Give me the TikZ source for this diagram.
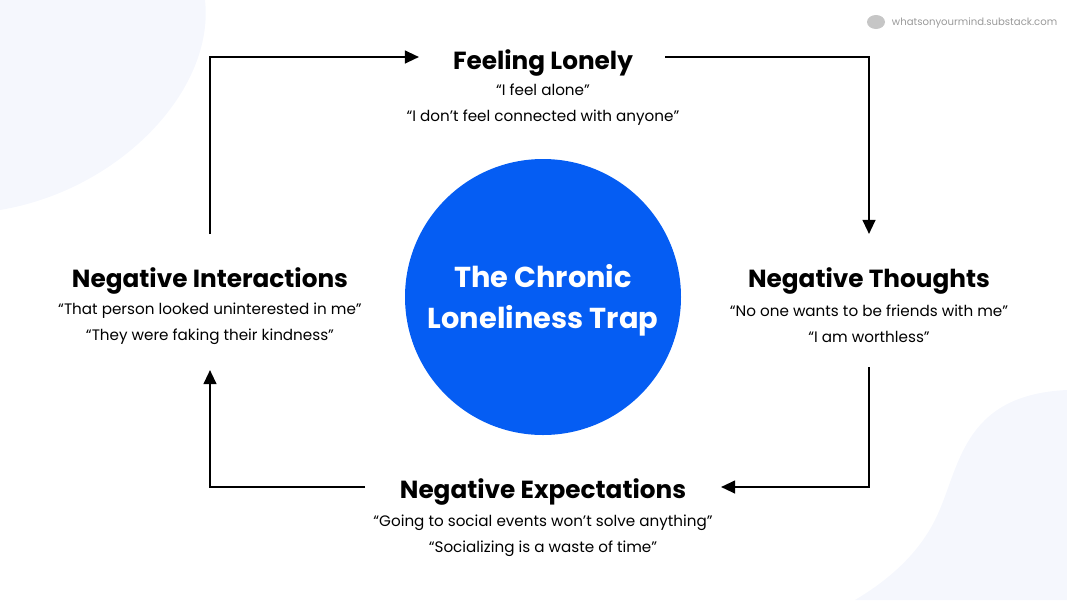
\documentclass[tikz,border=0pt]{standalone}
\usepackage{fontspec}
\setmainfont{Poppins}
\usetikzlibrary{arrows.meta}
\definecolor{trapblue}{HTML}{055DF3}
\definecolor{blob}{HTML}{F5F7FD}
\begin{document}
\begin{tikzpicture}[x=0.025cm,y=-0.025cm,
  title/.style={font=\fontsize{17.6}{22}\selectfont\bfseries, text=black},
  sub/.style={font=\fontsize{10.8}{18.5}\selectfont, align=center, text=black},
  cyc/.style={line width=1.6pt, -{Triangle[length=10pt,width=9pt]}}]
\useasboundingbox (0,0) rectangle (1067,600);
\fill[blob] (0,0) -- (205,0) .. controls (215,90) and (120,190) .. (0,210) -- cycle;
\fill[blob] (1067,390) .. controls (960,395) and (960,470) .. (935,520) .. controls (915,560) and (880,585) .. (855,600) -- (1067,600) -- cycle;
\node[font=\fontsize{7.2}{9}\selectfont, text=gray!80, anchor=west] (logo) at (887,23) {whatsonyourmind.substack.com};
\fill[gray!45] (876,22) ellipse (9 and 7);
\node[circle, fill=trapblue, minimum size=276*0.025cm, inner sep=0pt] (trap) at (543,297) {};
\node[font=\fontsize{20.5}{29}\selectfont\bfseries, text=white, align=center] (traptext) at (543,300) {The Chronic\\Loneliness Trap};
\node[title] (fl) at (543,63) {Feeling Lonely};
\node[sub] (fls) at (543,105) {“I feel alone”\\“I don’t feel connected with anyone”};
\node[title] (nt) at (869,281) {Negative Thoughts};
\node[sub] (nts) at (869,324) {“No one wants to be friends with me”\\“I am worthless”};
\node[title] (ni) at (210,281) {Negative Interactions};
\node[sub] (nis) at (210,324) {“That person looked uninterested in me”\\“They were faking their kindness”};
\node[title] (ne) at (543,492) {Negative Expectations};
\node[sub] (nes) at (543,536) {“Going to social events won’t solve anything”\\“Socializing is a waste of time”};
\coordinate (a1) at (210,234); \coordinate (a2) at (419,57);
\coordinate (b1) at (665,57); \coordinate (b2) at (869,234);
\coordinate (c1) at (869,367); \coordinate (c2) at (721,487);
\coordinate (d1) at (365,487); \coordinate (d2) at (210,370);
\draw[cyc] (a1) |- (a2);
\draw[cyc] (b1) -| (b2);
\draw[cyc] (c1) |- (c2);
\draw[cyc] (d1) -| (d2);
\end{tikzpicture}
\end{document}
